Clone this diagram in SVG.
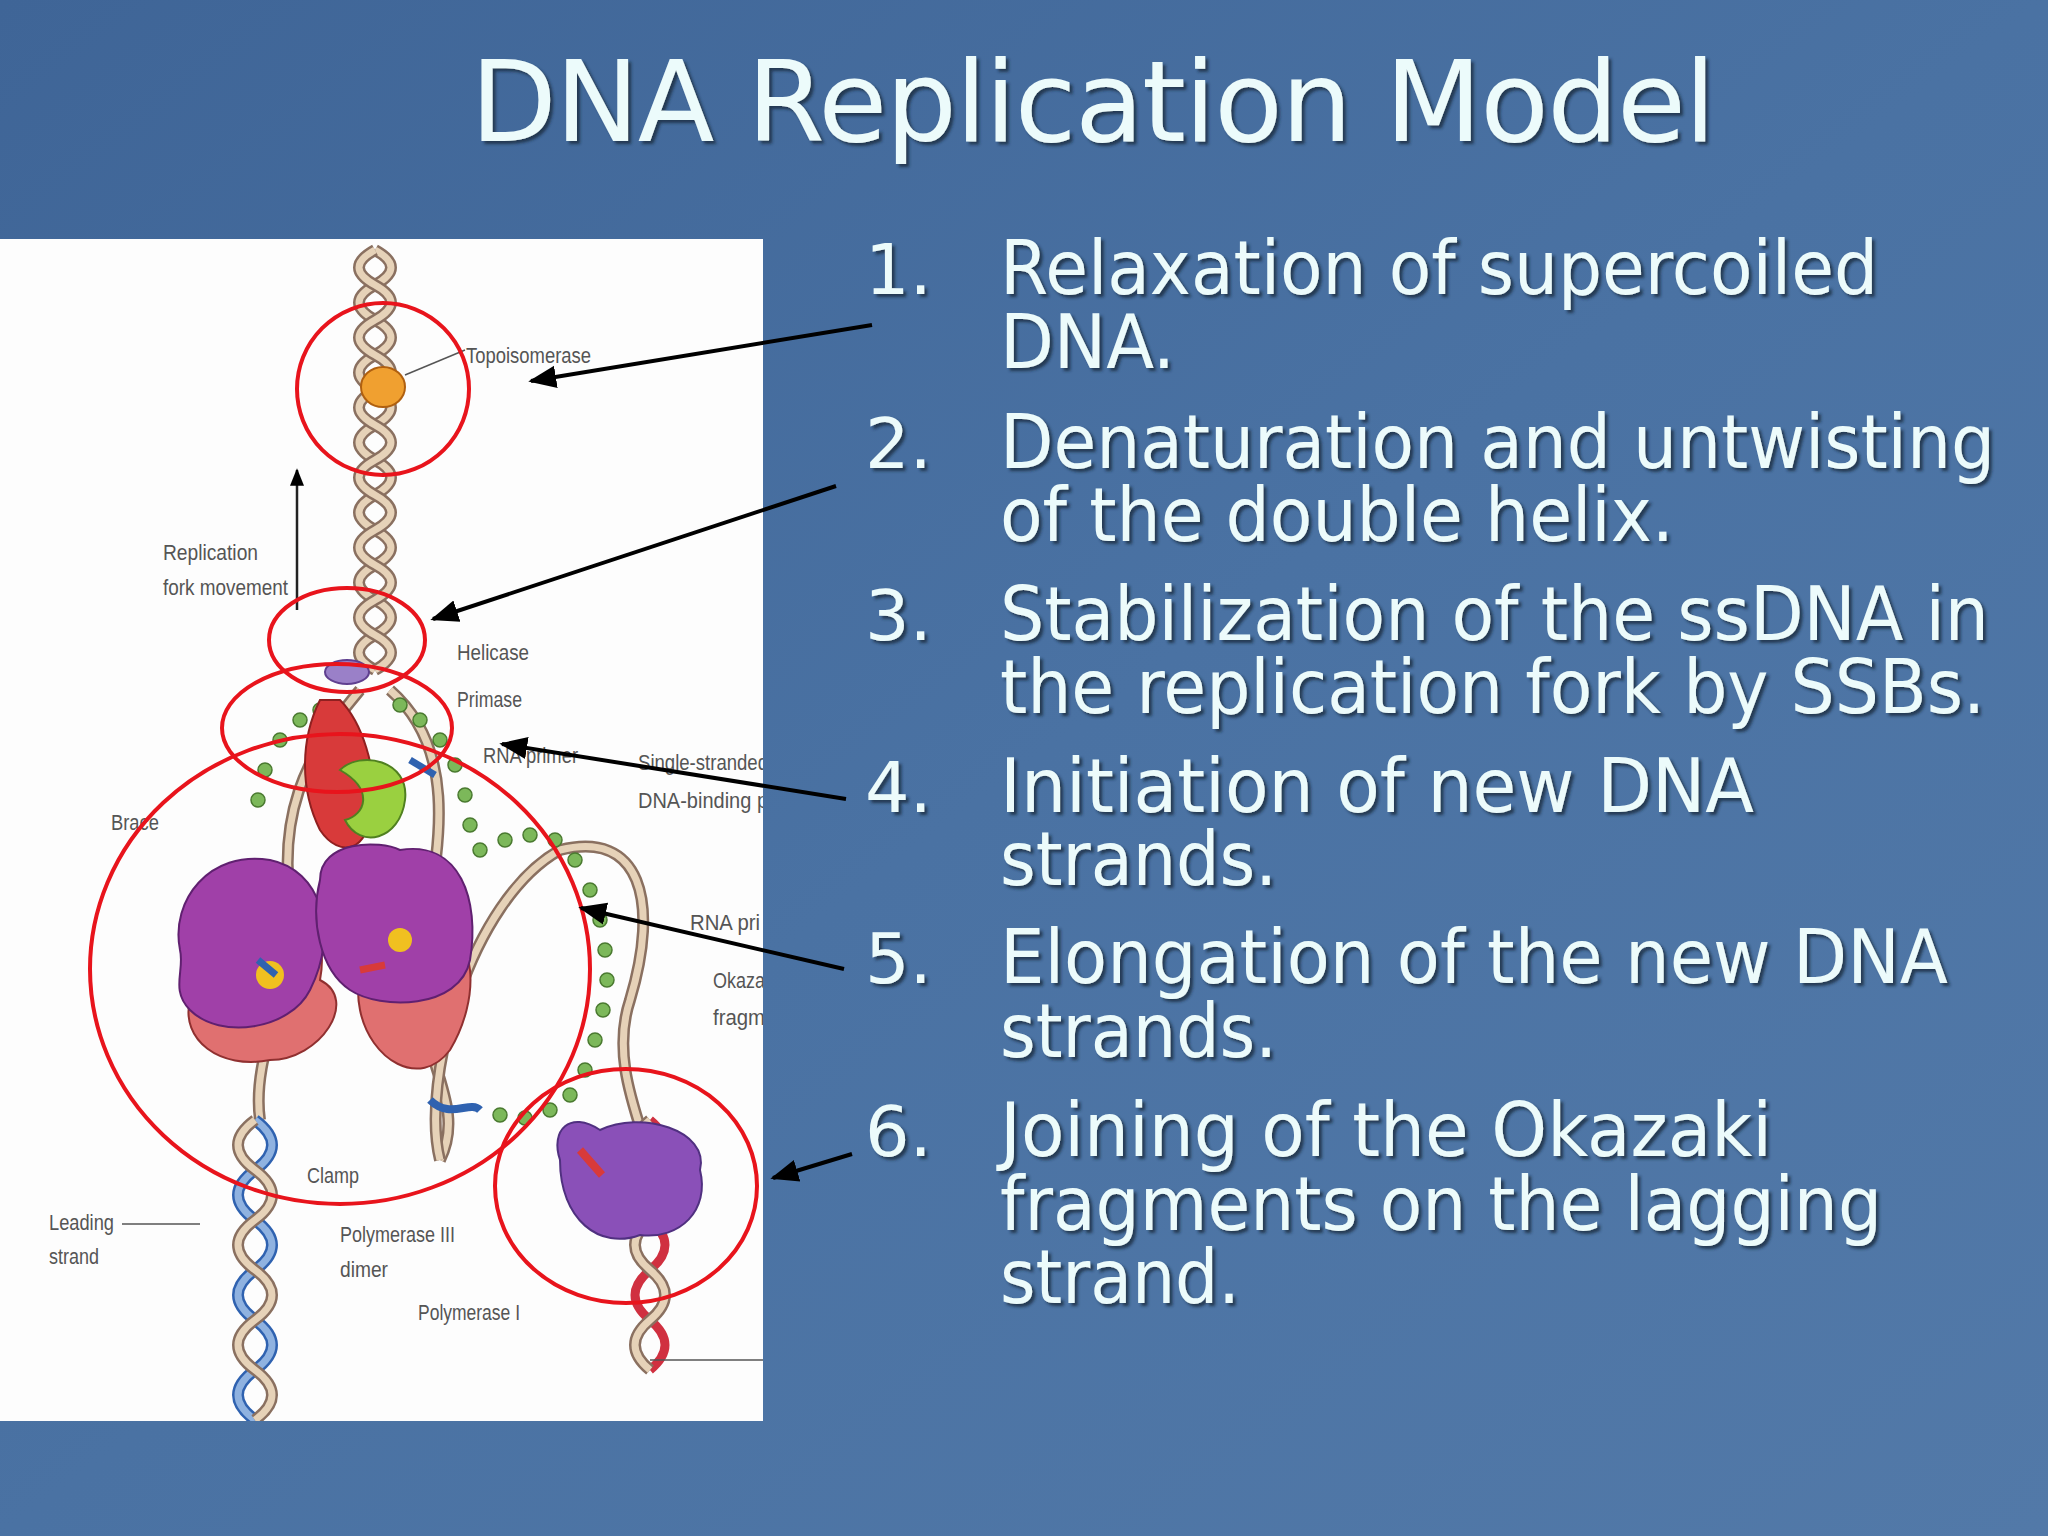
<svg xmlns="http://www.w3.org/2000/svg" width="2048" height="1536" viewBox="0 0 2048 1536">
<defs>
<linearGradient id="bg" x1="0" y1="0" x2="1" y2="1">
<stop offset="0" stop-color="#3f6597"/><stop offset="0.5" stop-color="#4a72a3"/><stop offset="1" stop-color="#5279a8"/>
</linearGradient>
<filter id="sh"><feDropShadow dx="3" dy="3" stdDeviation="1.5" flood-color="#1a2a40" flood-opacity="0.8"/></filter>
<marker id="ah" viewBox="0 0 10 10" refX="9" refY="5" markerWidth="7" markerHeight="7" orient="auto"><path d="M0,1 L10,5 L0,9 Z" fill="#000"/></marker>
<clipPath id="panel"><rect x="0" y="239" width="763" height="1182"/></clipPath>
</defs>
<style>
.t{font-family:"DejaVu Sans","Liberation Sans",sans-serif;fill:#ecfbfb;filter:url(#sh)}
.it{font-size:74px}
.sm{font-family:"Liberation Sans",sans-serif;font-size:22px;fill:#555}
.arr{stroke:#000;stroke-width:4;fill:none;marker-end:url(#ah)}
.rc{stroke:#e8141c;stroke-width:4;fill:none}
.s1{fill:none;stroke:#8a7060;stroke-width:12}
.s2{fill:none;stroke:#e6d2b8;stroke-width:7}
.b1{fill:none;stroke:#2f62b0;stroke-width:12}
.b2{fill:none;stroke:#8fb2e0;stroke-width:7}
.r2{fill:none;stroke:#d03040;stroke-width:9}
</style>
<rect width="2048" height="1536" fill="url(#bg)"/>
<text class="t" x="1093" y="141" text-anchor="middle" font-size="112" textLength="1245">DNA Replication Model</text>
<rect x="0" y="239" width="763" height="1182" fill="#fdfdfd"/>
<g id="diagram" clip-path="url(#panel)">
<path class="s1" d="M375 250 q 32 17.5 0 35 t 0 35 t 0 35 t 0 35 t 0 35 t 0 35 t 0 35 t 0 35 t 0 35 t 0 35 t 0 35 t 0 35"/>
<path class="s2" d="M375 250 q 32 17.5 0 35 t 0 35 t 0 35 t 0 35 t 0 35 t 0 35 t 0 35 t 0 35 t 0 35 t 0 35 t 0 35 t 0 35"/>
<path class="s1" d="M375 250 q -32 17.5 0 35 t 0 35 t 0 35 t 0 35 t 0 35 t 0 35 t 0 35 t 0 35 t 0 35 t 0 35 t 0 35 t 0 35"/>
<path class="s2" d="M375 250 q -32 17.5 0 35 t 0 35 t 0 35 t 0 35 t 0 35 t 0 35 t 0 35 t 0 35 t 0 35 t 0 35 t 0 35 t 0 35"/>
<path d="M297 610 L297 470" stroke="#222" stroke-width="2.5" marker-end="url(#ah)"/>
<path d="M360 690 C 300 760, 280 820, 290 900 C 300 980, 250 1050, 260 1120" class="s1"/>
<path d="M360 690 C 300 760, 280 820, 290 900 C 300 980, 250 1050, 260 1120" class="s2"/>
<path class="b1" d="M255 1120 q 34 25 0 50 t 0 50 t 0 50 t 0 50 t 0 50 t 0 50"/>
<path class="b2" d="M255 1120 q 34 25 0 50 t 0 50 t 0 50 t 0 50 t 0 50 t 0 50"/>
<path class="s1" d="M255 1120 q -34 25 0 50 t 0 50 t 0 50 t 0 50 t 0 50 t 0 50"/>
<path class="s2" d="M255 1120 q -34 25 0 50 t 0 50 t 0 50 t 0 50 t 0 50 t 0 50"/>
<path d="M390 690 C 470 760, 430 880, 420 960 C 410 1050, 470 1100, 440 1160" class="s1"/>
<path d="M390 690 C 470 760, 430 880, 420 960 C 410 1050, 470 1100, 440 1160" class="s2"/>
<path d="M440 1160 C 420 1080, 470 900, 560 850 C 640 830, 660 900, 630 1000 C 610 1060, 640 1120, 650 1160" class="s1"/>
<path d="M440 1160 C 420 1080, 470 900, 560 850 C 640 830, 660 900, 630 1000 C 610 1060, 640 1120, 650 1160" class="s2"/>
<path class="r2" d="M650 1120 q 30 25 0 50 t 0 50 t 0 50 t 0 50 t 0 50"/>
<path class="s1" d="M650 1120 q -30 25 0 50 t 0 50 t 0 50 t 0 50 t 0 50"/>
<path class="s2" d="M650 1120 q -30 25 0 50 t 0 50 t 0 50 t 0 50 t 0 50"/>
<path d="M650 1360 L763 1360" stroke="#555" stroke-width="1.5"/>
<path d="M430 1100 C 450 1120, 470 1100, 480 1110" stroke="#2f62b0" stroke-width="8" fill="none"/>
<g fill="#7cb85a" stroke="#4a7a30" stroke-width="1.5">
<circle cx="300" cy="720" r="7"/><circle cx="320" cy="710" r="7"/><circle cx="400" cy="705" r="7"/><circle cx="420" cy="720" r="7"/><circle cx="440" cy="740" r="7"/><circle cx="455" cy="765" r="7"/><circle cx="465" cy="795" r="7"/><circle cx="470" cy="825" r="7"/><circle cx="480" cy="850" r="7"/><circle cx="505" cy="840" r="7"/><circle cx="530" cy="835" r="7"/><circle cx="555" cy="840" r="7"/><circle cx="575" cy="860" r="7"/><circle cx="590" cy="890" r="7"/><circle cx="600" cy="920" r="7"/><circle cx="605" cy="950" r="7"/><circle cx="607" cy="980" r="7"/><circle cx="603" cy="1010" r="7"/><circle cx="595" cy="1040" r="7"/><circle cx="585" cy="1070" r="7"/><circle cx="570" cy="1095" r="7"/><circle cx="550" cy="1110" r="7"/><circle cx="525" cy="1118" r="7"/><circle cx="500" cy="1115" r="7"/>
<circle cx="280" cy="740" r="7"/><circle cx="265" cy="770" r="7"/><circle cx="258" cy="800" r="7"/>
</g>
<ellipse cx="383" cy="387" rx="22" ry="20" fill="#f0a030" stroke="#b06010" stroke-width="2"/>
<ellipse cx="347" cy="672" rx="22" ry="12" fill="#9a80c8" stroke="#604090" stroke-width="2"/>
<path d="M320 700 C 300 740, 300 790, 320 830 C 340 860, 370 850, 370 810 C 380 770, 360 720, 340 700 Z" fill="#d83a3a" stroke="#902020" stroke-width="2"/>
<path d="M340 770 C 360 750, 410 760, 405 800 C 400 840, 360 850, 345 820 C 365 815, 375 790, 340 770 Z" fill="#9ad040" stroke="#508020" stroke-width="2"/>
<path d="M410 760 l 25 15" stroke="#2f62b0" stroke-width="7"/>
<path d="M190 1000 C 170 960, 200 890, 250 880 C 300 870, 330 930, 320 980 C 360 1000, 320 1060, 270 1060 C 220 1070, 180 1040, 190 1000 Z" fill="#e07070" stroke="#903030" stroke-width="2"/>
<path d="M180 950 C 170 900, 210 850, 270 860 C 320 870, 340 930, 310 990 C 290 1030, 220 1040, 190 1010 C 170 990, 185 970, 180 950 Z" fill="#a040a8" stroke="#602070" stroke-width="2"/>
<path d="M360 1010 C 350 960, 380 920, 430 920 C 480 930, 480 1000, 450 1050 C 420 1090, 370 1060, 360 1010 Z" fill="#e07070" stroke="#903030" stroke-width="2"/>
<path d="M320 880 C 320 840, 380 840, 400 850 C 460 840, 480 900, 470 960 C 460 1010, 380 1010, 350 990 C 320 970, 310 920, 320 880 Z" fill="#a040a8" stroke="#602070" stroke-width="2"/>
<circle cx="270" cy="975" r="14" fill="#f0c020"/><path d="M258 960 l 18 15" stroke="#2f62b0" stroke-width="7"/>
<circle cx="400" cy="940" r="12" fill="#f0c020"/><path d="M360 970 l 25 -5" stroke="#d83a3a" stroke-width="7"/>
<path d="M560 1160 C 550 1130, 570 1110, 600 1130 C 640 1110, 710 1130, 700 1170 C 710 1210, 680 1240, 640 1235 C 600 1250, 560 1220, 560 1160 Z" fill="#8a50b8" stroke="#503080" stroke-width="2"/>
<path d="M580 1150 l 22 25" stroke="#d83a3a" stroke-width="8"/>
<path d="M405 375 l 60 -25" stroke="#555" stroke-width="1.5"/>
<text class="sm" x="466" y="363" textLength="125" lengthAdjust="spacingAndGlyphs">Topoisomerase</text>
<text class="sm" x="163" y="560" textLength="95" lengthAdjust="spacingAndGlyphs">Replication</text>
<text class="sm" x="163" y="595" textLength="125" lengthAdjust="spacingAndGlyphs">fork movement</text>
<text class="sm" x="457" y="660" textLength="72" lengthAdjust="spacingAndGlyphs">Helicase</text>
<text class="sm" x="457" y="707" textLength="65" lengthAdjust="spacingAndGlyphs">Primase</text>
<text class="sm" x="483" y="763" textLength="95" lengthAdjust="spacingAndGlyphs">RNA primer</text>
<text class="sm" x="638" y="770" textLength="130" lengthAdjust="spacingAndGlyphs">Single-stranded</text>
<text class="sm" x="638" y="808" textLength="130" lengthAdjust="spacingAndGlyphs">DNA-binding p</text>
<text class="sm" x="111" y="830" textLength="48" lengthAdjust="spacingAndGlyphs">Brace</text>
<text class="sm" x="690" y="930" textLength="70" lengthAdjust="spacingAndGlyphs">RNA pri</text>
<text class="sm" x="713" y="988" textLength="52" lengthAdjust="spacingAndGlyphs">Okaza</text>
<text class="sm" x="713" y="1025" textLength="52" lengthAdjust="spacingAndGlyphs">fragm</text>
<text class="sm" x="307" y="1183" textLength="52" lengthAdjust="spacingAndGlyphs">Clamp</text>
<text class="sm" x="49" y="1230" textLength="65" lengthAdjust="spacingAndGlyphs">Leading</text>
<text class="sm" x="49" y="1264" textLength="50" lengthAdjust="spacingAndGlyphs">strand</text>
<path d="M122 1224 l 78 0" stroke="#555" stroke-width="1.5"/>
<text class="sm" x="340" y="1242" textLength="115" lengthAdjust="spacingAndGlyphs">Polymerase III</text>
<text class="sm" x="340" y="1277" textLength="48" lengthAdjust="spacingAndGlyphs">dimer</text>
<text class="sm" x="418" y="1320" textLength="102" lengthAdjust="spacingAndGlyphs">Polymerase I</text>
</g>
<g id="circles">
<circle class="rc" cx="383" cy="389" r="86"/>
<ellipse class="rc" cx="347" cy="640" rx="78" ry="52"/>
<ellipse class="rc" cx="337" cy="728" rx="115" ry="64"/>
<ellipse class="rc" cx="340" cy="969" rx="250" ry="235"/>
<ellipse class="rc" cx="626" cy="1186" rx="131" ry="117"/>
</g>
<g id="connectors">
<path class="arr" d="M872 325 L531 381"/>
<path class="arr" d="M836 486 L433 619"/>
<path class="arr" d="M846 799 L502 744"/>
<path class="arr" d="M844 969 L581 908"/>
<path class="arr" d="M852 1154 L773 1178"/>
</g>
<g id="list" class="t it">
<g font-size="70"><text x="865" y="294">1.</text><text x="865" y="468">2.</text><text x="865" y="640">3.</text><text x="865" y="812">4.</text><text x="865" y="983">5.</text><text x="865" y="1156">6.</text></g>
<g lengthAdjust="spacingAndGlyphs">
<text x="1000" y="294" textLength="878" lengthAdjust="spacingAndGlyphs">Relaxation of supercoiled</text><text x="1000" y="368" textLength="175" lengthAdjust="spacingAndGlyphs">DNA.</text>
<text x="1000" y="468" textLength="995" lengthAdjust="spacingAndGlyphs">Denaturation and untwisting</text><text x="1000" y="541" textLength="674" lengthAdjust="spacingAndGlyphs">of the double helix.</text>
<text x="1000" y="640" textLength="989" lengthAdjust="spacingAndGlyphs">Stabilization of the ssDNA in</text><text x="1000" y="713" textLength="985" lengthAdjust="spacingAndGlyphs">the replication fork by SSBs.</text>
<text x="1000" y="812" textLength="754" lengthAdjust="spacingAndGlyphs">Initiation of new DNA</text><text x="1000" y="885" textLength="277" lengthAdjust="spacingAndGlyphs">strands.</text>
<text x="1000" y="983" textLength="948" lengthAdjust="spacingAndGlyphs">Elongation of the new DNA</text><text x="1000" y="1057" textLength="277" lengthAdjust="spacingAndGlyphs">strands.</text>
<text x="1000" y="1156" textLength="772" lengthAdjust="spacingAndGlyphs">Joining of the Okazaki</text><text x="1000" y="1230" textLength="882" lengthAdjust="spacingAndGlyphs">fragments on the lagging</text><text x="1000" y="1303" textLength="240" lengthAdjust="spacingAndGlyphs">strand.</text>
</g>
</g>
</svg>
